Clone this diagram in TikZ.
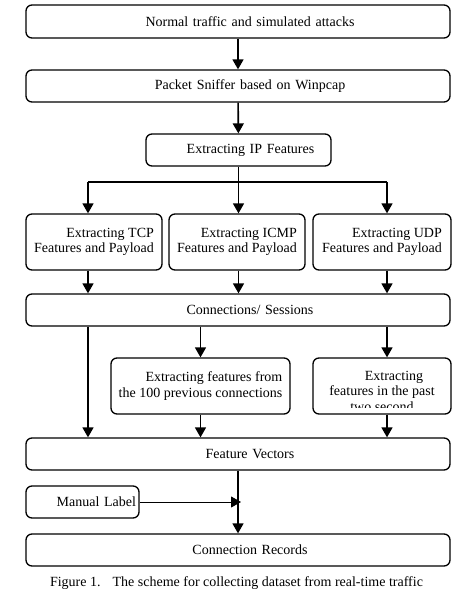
\documentclass[tikz,border=0pt]{standalone}
\usepackage{fontspec}
\setmainfont{Liberation Serif}
\usetikzlibrary{arrows.meta}
\begin{document}
\begin{tikzpicture}[x=1pt, y=-1pt,
    font=\fontsize{14}{15.5}\selectfont,
    box/.style={draw, line width=1.3pt, rounded corners=6pt, inner xsep=0pt, inner ysep=0pt, minimum height=32pt, align=center},
    wide/.style={box, text width=424pt, execute at begin node={\hspace*{24pt}}},
    sidebox/.style={box, minimum height=56pt, align=right},
    arr/.style={-{Triangle[length=10pt, width=11pt]}, line width=1.6pt},
    thinarr/.style={-{Triangle[length=10pt, width=11pt]}, line width=1pt}]
    \useasboundingbox (0,0) rectangle (474,613);
    % Main chain
    \node[wide, minimum height=33pt] (src) at (238,21.5) {Normal traffic and simulated attacks};
    \node[wide] (sniff) at (238,86) {Packet Sniffer based on Winpcap};
    \node[box, text width=185pt, execute at begin node={\hspace*{24pt}}] (ip) at (238.5,150) {Extracting IP Features};
    \draw[arr] (src) -- (sniff);
    \draw[arr] (sniff) -- (ip);
    % Protocol boxes
    \node[sidebox, minimum width=136pt] (tcp) at (94,242) {Extracting TCP\\Features and Payload};
    \node[sidebox, minimum width=136pt] (icmp) at (237,242) {Extracting ICMP\\Features and Payload};
    \node[sidebox, minimum width=138pt] (udp) at (382,242) {Extracting UDP\\Features and Payload};
    \coordinate (jl) at (88,182);
    \coordinate (jr) at (387,182);
    \coordinate (jm) at (ip.south |- jl);
    \draw[line width=1.6pt] (ip.south) -- (jm);
    \draw[line width=1.6pt] (jl) -- (jr);
    \draw[arr] (jl) -- (jl |- tcp.north);
    \draw[arr] (jm) -- (jm |- icmp.north);
    \draw[arr] (jr) -- (jr |- udp.north);
    % Sessions
    \node[wide] (conn) at (238,310) {Connections/ Sessions};
    \draw[arr] (jl |- tcp.south) -- (jl |- conn.north);
    \draw[arr] (jm |- icmp.south) -- (jm |- conn.north);
    \draw[arr] (jr |- udp.south) -- (jr |- conn.north);
    % Window features
    \node[sidebox, minimum width=179pt] (prev) at (200.5,386) {Extracting features from\\the 100 previous connections};
    \node[box, minimum width=138pt, minimum height=56pt] (past) at (382,386) {};
    \begin{scope}
        \clip (313,358) rectangle (451,407);
        \node[align=center, inner sep=0pt] (pasttext) at (382,391) {\hspace*{24pt}Extracting\\features in the past\\two second};
    \end{scope}
    \draw[arr] (prev.north |- conn.south) -- (prev.north);
    \draw[arr] (jr |- conn.south) -- (jr |- past.north);
    % Vectors and records
    \node[wide] (fv) at (238,454) {Feature Vectors};
    \draw[arr] (jl |- conn.south) -- (jl |- fv.north);
    \draw[arr] (prev.south) -- (prev.south |- fv.north);
    \draw[arr] (jr |- past.south) -- (jr |- fv.north);
    \node[box, text width=107pt, inner xsep=3pt, align=right] (manual) at (82.5,502) {Manual Label};
    \node[wide] (rec) at (238,550) {Connection Records};
    \coordinate (mtip) at (241,502);
    \draw[arr] (fv.south) -- (rec.north);
    \draw[thinarr] (manual.east) -- (mtip);
    \node (caption) at (236.5,583) {Figure 1.\hspace{12pt}The scheme for collecting dataset from real-time traffic};
\end{tikzpicture}
\end{document}
